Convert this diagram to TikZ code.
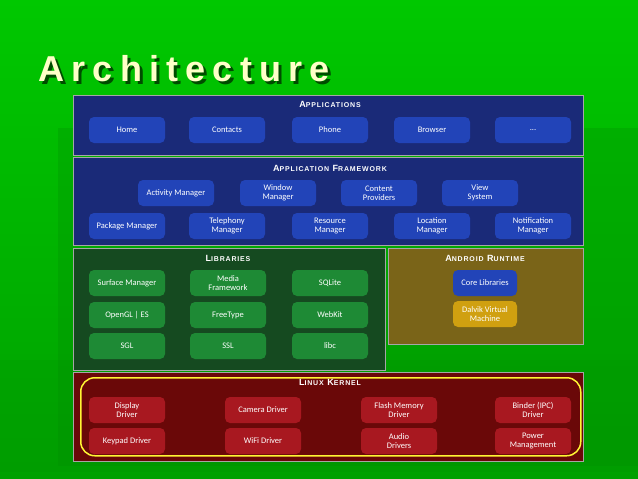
\documentclass[tikz,border=0pt]{standalone}
\usepackage{fontspec}
\setmainfont{Liberation Sans}
\newfontfamily\titlefont[LetterSpace=20]{Liberation Sans}
\newfontfamily\hdrfont[LetterSpace=12]{Liberation Sans}
\newfontfamily\btnfont{Carlito}
\definecolor{bgtop}{HTML}{00C800}
\definecolor{bgbot}{HTML}{00A000}
\definecolor{bluel}{HTML}{1A2A78}
\definecolor{blueb}{HTML}{2244B8}
\definecolor{greenl}{HTML}{154A20}
\definecolor{greenb}{HTML}{1E8A35}
\definecolor{ochre}{HTML}{7A6418}
\definecolor{ochreb}{HTML}{D0A010}
\definecolor{redl}{HTML}{6A0808}
\definecolor{redb}{HTML}{A81820}
\definecolor{cream}{HTML}{FFFFC8}
\tikzset{
 layer/.style={draw=gray!70, line width=0.8pt},
 btn/.style={rounded corners=5pt, minimum width=76pt, minimum height=26pt, inner sep=1pt,
   align=center, text=white, font=\btnfont\fontsize{8.5}{9}\selectfont},
 bbtn/.style={btn, fill=blueb},
 gbtn/.style={btn, fill=greenb},
 rbtn/.style={btn, fill=redb},
 hdr/.style={text=white, font=\hdrfont\bfseries\fontsize{9}{10}\selectfont}
}
\newcommand{\hsc}[2]{#1{\fontsize{7}{8}\selectfont #2}}
\begin{document}
\begin{tikzpicture}[x=1pt,y=-1pt]
\useasboundingbox (0,0) rectangle (638,479);
\shade[top color=bgtop, bottom color=bgbot] (0,0) rectangle (638,479);
\fill[bgbot!85!black, opacity=0.25] (58,128) rectangle (638,466);
\fill[bgbot!90!black, opacity=0.2] (0,360) rectangle (638,472);
% title
\node[anchor=base west, text=black!70!green, font=\titlefont\bfseries\fontsize{36}{40}\selectfont] (shadow) at (38,84) {Architecture};
\node[anchor=base west, text=cream, font=\titlefont\bfseries\fontsize{36}{40}\selectfont] (title) at (35,81) {Architecture};
% layers
\node[layer, fill=bluel, minimum width=510pt, minimum height=60pt, inner sep=0, anchor=north west] (applayer) at (73,95) {};
\node[layer, fill=bluel, minimum width=510pt, minimum height=88pt, inner sep=0, anchor=north west] (fwlayer) at (73,157) {};
\node[layer, fill=greenl, minimum width=312pt, minimum height=122pt, inner sep=0, anchor=north west] (liblayer) at (73,248) {};
\node[layer, fill=ochre, minimum width=195pt, minimum height=96pt, inner sep=0, anchor=north west] (rtlayer) at (388,248) {};
\node[layer, fill=redl, minimum width=510pt, minimum height=89pt, inner sep=0, anchor=north west] (klayer) at (73,372) {};
\node[draw=yellow!80!white, line width=1.5pt, rounded corners=14pt, minimum width=500pt, minimum height=78pt, anchor=north west] (ring) at (80,377) {};
% headers
\node[hdr] (h1) at (330,104) {\hsc{A}{PPLICATIONS}};
\node[hdr] (h2) at (330,168) {\hsc{A}{PPLICATION} \hsc{F}{RAMEWORK}};
\node[hdr] (h3) at (228,258) {\hsc{L}{IBRARIES}};
\node[hdr] (h4) at (485,258) {\hsc{A}{NDROID} \hsc{R}{UNTIME}};
\node[hdr] (h5) at (330,382) {\hsc{L}{INUX} \hsc{K}{ERNEL}};
% applications
\node[bbtn] (a1) at (127,130) {Home};
\node[bbtn] (a2) at (227,130) {Contacts};
\node[bbtn] (a3) at (330,130) {Phone};
\node[bbtn] (a4) at (432,130) {Browser};
\node[bbtn] (a5) at (533,130) {...};
% framework
\node[bbtn] (f1) at (176,193) {Activity Manager};
\node[bbtn] (f2) at (278,193) {Window\\Manager};
\node[bbtn] (f3) at (379,193) {Content\\Providers};
\node[bbtn] (f4) at (480,193) {View\\System};
\node[bbtn] (f5) at (127,226) {Package Manager};
\node[bbtn] (f6) at (227,226) {Telephony\\Manager};
\node[bbtn] (f7) at (330,226) {Resource\\Manager};
\node[bbtn] (f8) at (432,226) {Location\\Manager};
\node[bbtn] (f9) at (533,226) {Notification\\Manager};
% libraries
\node[gbtn] (l1) at (127,283) {Surface Manager};
\node[gbtn] (l2) at (228,283) {Media\\Framework};
\node[gbtn] (l3) at (330,283) {SQLite};
\node[gbtn] (l4) at (127,315) {OpenGL | ES};
\node[gbtn] (l5) at (228,315) {FreeType};
\node[gbtn] (l6) at (330,315) {WebKit};
\node[gbtn] (l7) at (127,346) {SGL};
\node[gbtn] (l8) at (228,346) {SSL};
\node[gbtn] (l9) at (330,346) {libc};
% runtime
\node[btn, fill=blueb, minimum width=64pt] (r1) at (485,283) {Core Libraries};
\node[btn, fill=ochreb, minimum width=64pt] (r2) at (485,314) {Dalvik Virtual\\Machine};
% kernel
\node[rbtn] (k1) at (127,410) {Display\\Driver};
\node[rbtn] (k2) at (263,410) {Camera Driver};
\node[rbtn] (k3) at (399,410) {Flash Memory\\Driver};
\node[rbtn] (k4) at (533,410) {Binder (IPC)\\Driver};
\node[rbtn] (k5) at (127,441) {Keypad Driver};
\node[rbtn] (k6) at (263,441) {WiFi Driver};
\node[rbtn] (k7) at (399,441) {Audio\\Drivers};
\node[rbtn] (k8) at (533,441) {Power\\Management};
\end{tikzpicture}
\end{document}
